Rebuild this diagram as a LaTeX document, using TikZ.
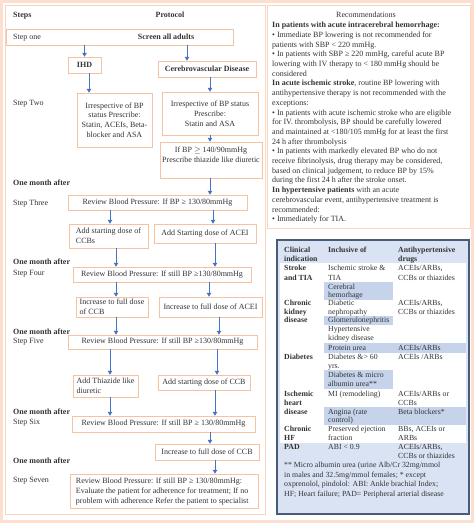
\documentclass[tikz,border=0pt]{standalone}
\usepackage{fontspec}
\setmainfont{Liberation Serif}
\usetikzlibrary{arrows.meta,calc}
\definecolor{peach}{HTML}{F6C3A2}
\definecolor{peachlt}{HTML}{FBE0CF}
\definecolor{arrblue}{HTML}{4472C4}
\definecolor{tblbg}{HTML}{DAE3F3}
\definecolor{tblsh}{HTML}{C5D3EB}
\definecolor{tbldk}{HTML}{4A5B78}
\definecolor{ink}{HTML}{333333}
\newcounter{lnc}
% single line of text, (x, visual centre y)
\newcommand\Lt[4][]{\stepcounter{lnc}\node[txt,anchor=base west,#1] (t\thelnc) at (#2,#3+2.7) {#4};}
\newcommand\Lc[4][]{\stepcounter{lnc}\node[txt,anchor=base,#1] (t\thelnc) at (#2,#3+2.7) {#4};}
\newcommand\Tt[4][]{\stepcounter{lnc}\node[ttxt,anchor=base west,#1] (t\thelnc) at (#2,#3+2.6) {#4};}
\newcommand\vconn[3]{\draw[arr] ([xshift=#3pt]#1.south) -- ([xshift=#3pt]#1.south |- #2.north);}
\begin{document}
\begin{tikzpicture}[x=1pt,y=-1pt,
  every node/.style={text=ink},
  box/.style={draw=peach, line width=0.5pt, inner sep=0pt, font=\fontsize{8}{9.8}\selectfont, align=center},
  lbox/.style={box, align=left},
  arr/.style={draw=arrblue, line width=1pt, -{Triangle[length=4pt,width=4.5pt]}},
  txt/.style={inner sep=0pt, font=\fontsize{8}{9.8}\selectfont},
  ttxt/.style={inner sep=0pt, font=\fontsize{7.8}{9}\selectfont},
]
\useasboundingbox (0,0) rectangle (474,523);
\fill[white] (0,0) rectangle (474,523);
\draw[peachlt, line width=3pt] (1.5,1.5) rectangle (472.5,521.5);
% left panel
\draw[peach!70, line width=0.5pt] (5,5) rectangle (265,514);
% recommendation box
\draw[peach!70, line width=0.5pt] (267,5) rectangle (470,228);

% ---------- left panel ----------
\Lt[font=\fontsize{8}{9.8}\selectfont\bfseries]{13}{15}{Steps}
\Lc[font=\fontsize{8}{9.8}\selectfont\bfseries]{170}{15}{Protocol}

\node[box, minimum width=227, minimum height=16] (stepone) at (119.5,37) {};
\Lt{13}{37}{Step one}
\Lc[font=\fontsize{8}{9.8}\selectfont\bfseries]{166}{37}{Screen all adults}

\node[box, minimum width=33, minimum height=16, font=\fontsize{8}{9.8}\selectfont\bfseries] (ihd) at (84.5,65) {IHD};
\node[box, minimum width=98, minimum height=16, font=\fontsize{8}{9.8}\selectfont\bfseries] (cvd) at (207,69) {Cerebrovascular Disease};

\Lt{13}{103}{Step Two}
\node[box, minimum width=75, minimum height=54] (ihdrx) at (114.5,120) {Irrespective of BP\\status Prescribe:\\Statin, ACEIs, Beta-\\blocker and ASA};
\node[box, minimum width=96, minimum height=43] (cvdrx) at (210,113.5) {Irrespective of BP status\\Prescribe:\\Statin and ASA};
\node[box, minimum width=102, minimum height=36] (thz) at (211,160) {};
\node[txt, align=center, anchor=north] (thzt) at ([yshift=-5pt]thz.north) {If BP $\geq$ 140/90mmHg\\Prescribe thiazide like diuretic};

\Lt[font=\fontsize{8}{9.8}\selectfont\bfseries]{13}{183}{One month after}
\Lt{13}{203}{Step Three}
\node[box, minimum width=179, minimum height=15] (rev3) at (157.5,202.5) {Review Blood Pressure: If BP ≥ 130/80mmHg};
\node[lbox, minimum width=79, minimum height=24] (ccb1) at (108.5,236) {Add starting dose of\\CCBs};
\node[box, minimum width=102, minimum height=19] (acei1) at (205,233.5) {Add Starting dose of ACEI};

\Lt[font=\fontsize{8}{9.8}\selectfont\bfseries]{13}{262}{One month after}
\Lt{13}{273}{Step Four}
\node[box, minimum width=178, minimum height=15] (rev4) at (162,274.5) {Review Blood Pressure: If still BP ≥130/80mmHg};
\node[lbox, minimum width=72, minimum height=20] (ccb2) at (112,307) {Increase to full dose\\of CCB};
\node[box, minimum width=103, minimum height=20] (acei2) at (210.5,307) {Increase to full dose of ACEI};

\Lt[font=\fontsize{8}{9.8}\selectfont\bfseries]{13}{332}{One month after}
\Lt{13}{341}{Step Five}
\node[box, minimum width=189, minimum height=14] (rev5) at (162.5,342) {Review Blood Pressure: If still BP ≥130/80mmHg};
\node[lbox, minimum width=65, minimum height=22] (thz2) at (105.5,386) {Add Thiazide like\\diuretic};
\node[box, minimum width=92, minimum height=15] (ccb3) at (204,382.5) {Add starting dose of CCB};

\Lt[font=\fontsize{8}{9.8}\selectfont\bfseries]{13}{412}{One month after}
\Lt{13}{422}{Step Six}
\node[box, minimum width=183, minimum height=16] (rev6) at (163.5,424) {Review Blood Pressure: If still BP ≥ 130/80mmHg};
\node[box, minimum width=104, minimum height=16] (ccb4) at (207,452) {Increase to full dose of CCB};

\Lt[font=\fontsize{8}{9.8}\selectfont\bfseries]{13}{461}{One month after}
\Lt{13}{480}{Step Seven}
\node[box, minimum width=188, minimum height=34] (rev7) at (164,491) {};
\node[txt, align=left, anchor=north west] (rev7t) at ([shift={(6,4)}]rev7.north west) {Review Blood Pressure: If still BP ≥ 130/80mmHg:\\Evaluate the patient for adherence for treatment; If no\\problem with adherence Refer the patient to specialist};

% arrows
\vconn{stepone}{ihd}{-35}
\vconn{stepone}{cvd}{67.5}
\vconn{ihd}{ihdrx}{4.5}
\vconn{cvd}{cvdrx}{3}
\vconn{cvdrx}{thz}{0}
\vconn{thz}{rev3}{-1}
\vconn{rev3}{ccb1}{-47.5}
\vconn{rev3}{acei1}{55.5}
\vconn{ccb1}{rev4}{7.5}
\vconn{acei1}{rev4}{10}
\vconn{rev4}{ccb2}{-46}
\vconn{rev4}{acei2}{47}
\vconn{ccb2}{rev5}{4}
\vconn{acei2}{rev5}{8.5}
\vconn{rev5}{thz2}{-52.5}
\vconn{rev5}{ccb3}{54.5}
\vconn{thz2}{rev6}{4.5}
\vconn{ccb3}{rev6}{11}
\vconn{rev6}{ccb4}{46.5}
\vconn{ccb4}{rev7}{8}

% ---------- recommendations ----------
\Lc{366}{15}{Recommendations}
\Lt{272}{25}{\textbf{In patients with acute intracerebral hemorrhage:}}
\Lt{272}{34.7}{• Immediate BP lowering is not recommended for}
\Lt{272}{44.4}{patients with SBP < 220 mmHg.}
\Lt{272}{54.1}{• In patients with SBP ≥ 220 mmHg, careful acute BP}
\Lt{272}{63.8}{lowering with IV therapy to < 180 mmHg should be}
\Lt{272}{73.5}{considered}
\Lt{272}{83.2}{\textbf{In acute ischemic stroke}, routine BP lowering with}
\Lt{272}{92.9}{antihypertensive therapy is not recommended with the}
\Lt{272}{102.6}{exceptions:}
\Lt{272}{112.3}{• In patients with acute ischemic stroke who are eligible}
\Lt{272}{122}{for IV. thrombolysis, BP should be carefully lowered}
\Lt{272}{131.7}{and maintained at <180/105 mmHg for at least the first}
\Lt{272}{141.4}{24 h after thrombolysis}
\Lt{272}{151.1}{• In patients with markedly elevated BP who do not}
\Lt{272}{160.8}{receive fibrinolysis, drug therapy may be considered,}
\Lt{272}{170.5}{based on clinical judgement, to reduce BP by 15\%}
\Lt{272}{180.2}{during the first 24 h after the stroke onset.}
\Lt{272}{189.9}{\textbf{In hypertensive patients} with an acute}
\Lt{272}{199.6}{cerebrovascular event, antihypertensive treatment is}
\Lt{272}{209.3}{recommended:}
\Lt{272}{219}{• Immediately for TIA.}

% ---------- table ----------
\fill[tblbg] (277,240) rectangle (469,514);
\fill[white] (280,263) rectangle (466,443);
\fill[tblsh] (324,282) rectangle (393,300);
\fill[tblsh] (324,316) rectangle (393,325);
\fill[tblsh] (324,343) rectangle (466,353);
\fill[tblsh] (324,370) rectangle (393,389);
\fill[tblsh] (324,407) rectangle (466,425);
\draw[tbldk, line width=1.2pt] (277,240) rectangle (469,514);

\Tt[font=\fontsize{7.8}{9}\selectfont\bfseries]{284}{250}{Clinical}
\Tt[font=\fontsize{7.8}{9}\selectfont\bfseries]{284}{259}{indication}
\Tt[font=\fontsize{7.8}{9}\selectfont\bfseries]{284}{268}{Stroke}
\Tt[font=\fontsize{7.8}{9}\selectfont\bfseries]{284}{278}{and TIA}
\Tt[font=\fontsize{7.8}{9}\selectfont\bfseries]{284}{303}{Chronic}
\Tt[font=\fontsize{7.8}{9}\selectfont\bfseries]{284}{312}{kidney}
\Tt[font=\fontsize{7.8}{9}\selectfont\bfseries]{284}{320}{disease}
\Tt[font=\fontsize{7.8}{9}\selectfont\bfseries]{284}{357}{Diabetes}
\Tt[font=\fontsize{7.8}{9}\selectfont\bfseries]{284}{394}{Ischemic}
\Tt[font=\fontsize{7.8}{9}\selectfont\bfseries]{284}{403}{heart}
\Tt[font=\fontsize{7.8}{9}\selectfont\bfseries]{284}{412}{disease}
\Tt[font=\fontsize{7.8}{9}\selectfont\bfseries]{284}{429}{Chronic}
\Tt[font=\fontsize{7.8}{9}\selectfont\bfseries]{284}{438}{HF}
\Tt[font=\fontsize{7.8}{9}\selectfont\bfseries]{284}{447}{PAD}

\Tt[font=\fontsize{7.8}{9}\selectfont\bfseries]{328}{250}{Inclusive of}
\Tt{328}{268}{Ischemic stroke \&}
\Tt{328}{278}{TIA}
\Tt{328}{287}{Cerebral}
\Tt{328}{295}{hemorhage}
\Tt{328}{303}{Diabetic}
\Tt{328}{312}{nephropathy}
\Tt{328}{320}{Glomerulonephritis}
\Tt{328}{329}{Hypertensive}
\Tt{328}{338}{kidney disease}
\Tt{328}{348}{Protein urea}
\Tt{328}{357}{Diabetes \&> 60}
\Tt{328}{366}{yrs.}
\Tt{328}{375}{Diabetes \& micro}
\Tt{328}{384}{albumin urea**}
\Tt{328}{394}{MI (remodeling)}
\Tt{328}{412}{Angina (rate}
\Tt{328}{420}{control)}
\Tt{328}{429}{Preserved ejection}
\Tt{328}{438}{fraction}
\Tt{328}{447}{ABI < 0.9}

\Tt[font=\fontsize{7.8}{9}\selectfont\bfseries]{398}{250}{Antihypertensive}
\Tt[font=\fontsize{7.8}{9}\selectfont\bfseries]{398}{259}{drugs}
\Tt{398}{268}{ACEIs/ARBs,}
\Tt{398}{278}{CCBs or thiazides}
\Tt{398}{303}{ACEIs/ARBs,}
\Tt{398}{312}{CCBs or thiazides}
\Tt{398}{348}{ACEIs/ARBs}
\Tt{398}{357}{ACEIs /ARBs}
\Tt{398}{394}{ACEIs/ARBs or}
\Tt{398}{403}{CCBs}
\Tt{398}{412}{Beta blockers*}
\Tt{398}{429}{BBs, ACEIs or}
\Tt{398}{438}{ARBs}
\Tt{398}{447}{ACEIs/ARBs,}
\Tt{398}{456}{CCBs or thiazides}

\Tt{284}{465}{** Micro albumin urea (urine Alb/Cr 32mg/mmol}
\Tt{284}{474.5}{in males and 32.5mg/mmol females; * except}
\Tt{284}{484}{oxprenolol, pindolol: ABI: Ankle brachial Index;}
\Tt{284}{493.5}{HF; Heart failure; PAD= Peripheral arterial disease}
\end{tikzpicture}
\end{document}
